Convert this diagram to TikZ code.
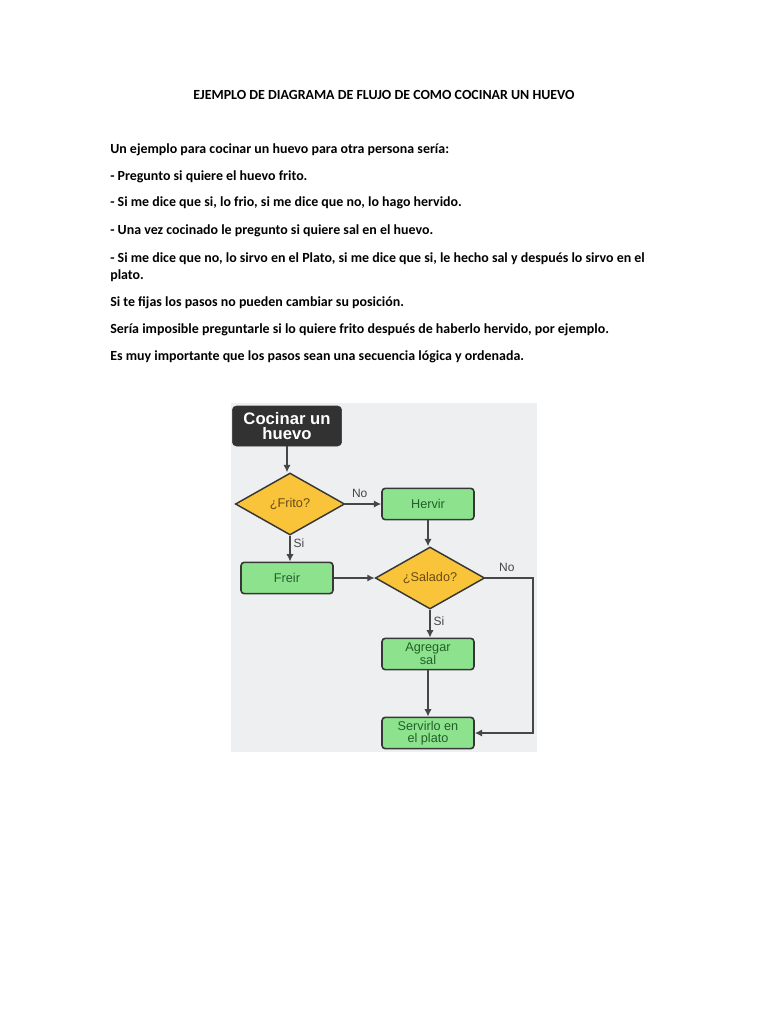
\documentclass[tikz,border=0pt]{standalone}
\usepackage{fontspec}
\setmainfont{Carlito}
\newfontfamily\chartfont{Liberation Sans}
\usetikzlibrary{shapes.geometric,arrows.meta}

\definecolor{chartbg}{RGB}{237,239,241}
\definecolor{startfill}{RGB}{50,50,50}
\definecolor{boxfill}{RGB}{141,226,142}
\definecolor{askfill}{RGB}{249,195,58}
\definecolor{edgegray}{RGB}{55,55,55}
\definecolor{linkgray}{RGB}{70,70,70}
\definecolor{boxtext}{RGB}{35,95,40}
\definecolor{asktext}{RGB}{105,75,20}

\begin{document}
\begin{tikzpicture}[x=0.75pt,y=-0.75pt,
	txt/.style={anchor=west, inner sep=0pt, font=\bfseries\fontsize{10.45}{12}\selectfont},
	startbox/.style={draw=edgegray, fill=startfill, rounded corners=3pt, minimum width=82pt, minimum height=30pt, align=center, text=white, inner sep=0pt, font=\chartfont\bfseries\fontsize{12.5}{11.5}\selectfont},
	stepbox/.style={draw=edgegray, line width=1.2pt, fill=boxfill, rounded corners=2.5pt, minimum width=69pt, minimum height=23.5pt, align=center, text=boxtext, inner sep=0pt, font=\chartfont\fontsize{9.5}{8.8}\selectfont},
	ask/.style={diamond, draw=edgegray, line width=1.1pt, fill=askfill, aspect=1.75, minimum width=82pt, minimum height=46.5pt, inner sep=0pt, text=asktext, font=\chartfont\fontsize{9.5}{10}\selectfont},
	link/.style={draw=linkgray, line width=1.5pt, -{Latex[length=5.5pt,width=5.5pt]}},
	tag/.style={text=linkgray, inner sep=0pt, font=\chartfont\fontsize{9}{10}\selectfont}]
	\useasboundingbox (0,0) rectangle (768,1024);
	\fill[white] (0,0) rectangle (768,1024);

	% Text
	\node[txt, anchor=center] (title) at (384,95) {EJEMPLO DE DIAGRAMA DE FLUJO DE COMO COCINAR UN HUEVO};
	\node[txt] (l1) at (110,150) {Un ejemplo para cocinar un huevo para otra persona sería:};
	\node[txt] (l2) at (110,177) {- Pregunto si quiere el huevo frito.};
	\node[txt] (l3) at (110,203) {- Si me dice que si, lo frio, si me dice que no, lo hago hervido.};
	\node[txt] (l4) at (110,231) {- Una vez cocinado le pregunto si quiere sal en el huevo.};
	\node[txt] (l5) at (110,259) {- Si me dice que no, lo sirvo en el Plato, si me dice que si, le hecho sal y después lo sirvo en el};
	\node[txt] (l5b) at (110,276) {plato.};
	\node[txt] (l6) at (110,303) {Si te fijas los pasos no pueden cambiar su posición.};
	\node[txt] (l7) at (110,330) {Sería imposible preguntarle si lo quiere frito después de haberlo hervido, por ejemplo.};
	\node[txt] (l8) at (110,357) {Es muy importante que los pasos sean una secuencia lógica y ordenada.};

	% Chart
	\fill[chartbg] (231,403) rectangle (537,752);
	\node[startbox] (start) at (287,426) {Cocinar un\\huevo};
	\node[ask] (frito) at (290,504) {¿Frito?};
	\node[stepbox] (hervir) at (428,504) {Hervir};
	\node[stepbox] (freir) at (287,578) {Freir};
	\node[ask] (salado) at (430,578) {¿Salado?};
	\node[stepbox] (agregar) at (428,654) {Agregar\\sal};
	\node[stepbox] (servir) at (428,733) {Servirlo en\\el plato};
	\coordinate (bend) at (533,578);

	% Links
	\draw[link] (start) -- (start.south |- frito.north);
	\draw[link] (frito) -- (hervir) node[tag, pos=0.4, above=4pt] {No};
	\draw[link] (frito.south) -- (frito.south |- freir.north) node[tag, pos=0.3, right=2pt] {Si};
	\draw[link] (freir) -- (salado);
	\draw[link] (hervir) -- (hervir.south |- salado.north);
	\draw[link] (salado.south) -- (salado.south |- agregar.north) node[tag, pos=0.4, right=2pt] {Si};
	\draw[link] (agregar) -- (servir);
	\draw[link] (salado.east) -- (bend) node[tag, pos=0.45, above=4pt] {No} |- (servir.east);
\end{tikzpicture}
\end{document}
